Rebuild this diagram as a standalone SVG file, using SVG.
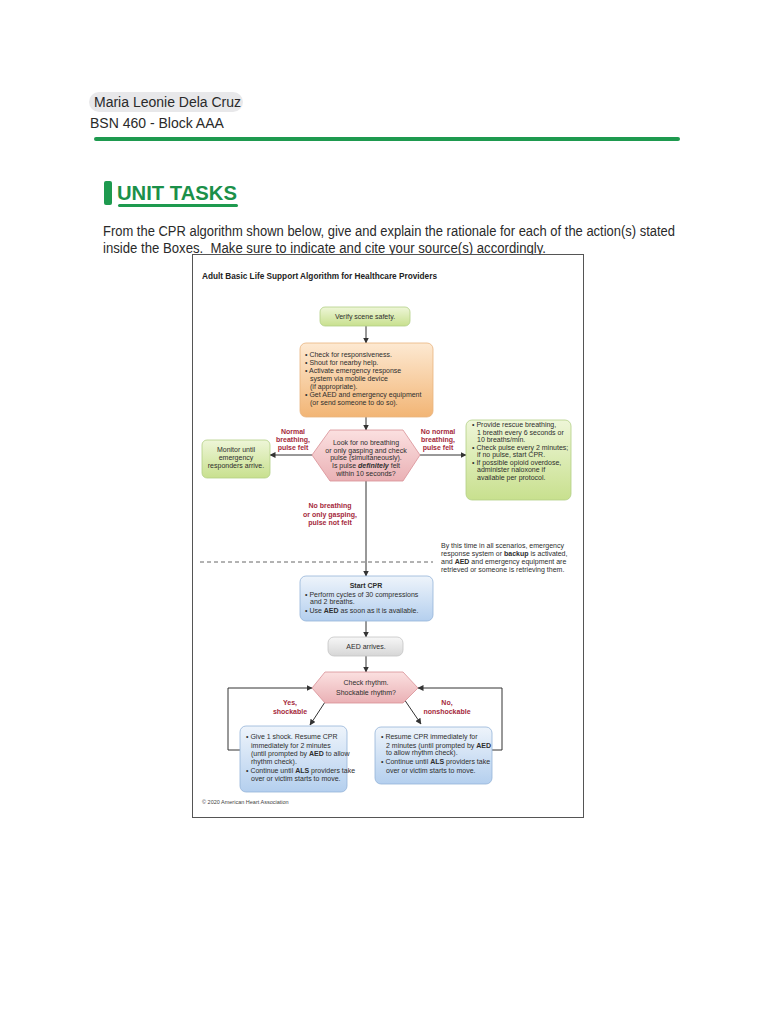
<svg xmlns="http://www.w3.org/2000/svg" width="768" height="1024" viewBox="0 0 768 1024">
<defs>
<linearGradient id="gGreen" x1="0" y1="0" x2="0" y2="1"><stop offset="0" stop-color="#eef6d8"/><stop offset="1" stop-color="#c8e08e"/></linearGradient>
<linearGradient id="gOrange" x1="0" y1="0" x2="0" y2="1"><stop offset="0" stop-color="#fde9d2"/><stop offset="1" stop-color="#f2b575"/></linearGradient>
<linearGradient id="gPink" x1="0" y1="0" x2="0" y2="1"><stop offset="0" stop-color="#fbe0e0"/><stop offset="1" stop-color="#eab1b5"/></linearGradient>
<linearGradient id="gBlue" x1="0" y1="0" x2="0" y2="1"><stop offset="0" stop-color="#eef4fb"/><stop offset="1" stop-color="#b4cfee"/></linearGradient>
<linearGradient id="gGray" x1="0" y1="0" x2="0" y2="1"><stop offset="0" stop-color="#f7f7f7"/><stop offset="1" stop-color="#d6d6d6"/></linearGradient>
<marker id="arr" markerWidth="6" markerHeight="6" refX="5.5" refY="3" orient="auto" markerUnits="userSpaceOnUse"><path d="M0,0 L6,3 L0,6 z" fill="#333"/></marker>
</defs>
<style>
.hdr{font-family:"Liberation Sans",Arial,sans-serif;font-size:14px;fill:#2a2a2a}
.bt{font-family:"Liberation Sans",Arial,sans-serif;font-size:7px;fill:#2e2e2e}
.btc{font-family:"Liberation Sans",Arial,sans-serif;font-size:7px;fill:#2e2e2e;text-anchor:middle}
.lbl{font-family:"Liberation Sans",Arial,sans-serif;font-size:7px;font-weight:bold;fill:#a52a3c;text-anchor:middle}
.conn{stroke:#333;stroke-width:1;fill:none}
.b{font-weight:bold}
</style>
<rect width="768" height="1024" fill="#ffffff"/>
<g id="header">
<rect x="89" y="92" width="154" height="20" rx="10" fill="#e8e8ea"/>
<text class="hdr" x="94" y="107">Maria Leonie Dela Cruz</text>
<text class="hdr" x="90" y="128">BSN 460 - Block AAA</text>
<rect x="94" y="137" width="586" height="4" rx="2" fill="#1e9a4f"/>
<rect x="104" y="181" width="8" height="24" rx="2" fill="#1e9a4f"/>
<text x="117" y="200" font-family="'Liberation Sans',Arial,sans-serif" font-size="21" font-weight="bold" fill="#1b9049" textLength="120" lengthAdjust="spacingAndGlyphs">UNIT TASKS</text>
<rect x="118" y="204" width="120" height="3" rx="1.5" fill="#1e9a4f"/>
<text class="hdr" x="103" y="236" textLength="572" lengthAdjust="spacingAndGlyphs">From the CPR algorithm shown below, give and explain the rationale for each of the action(s) stated</text>
<text class="hdr" x="103" y="253" textLength="443" lengthAdjust="spacingAndGlyphs">inside the Boxes.&#160; Make sure to indicate and cite your source(s) accordingly.</text>
</g>
<rect x="192.5" y="254.5" width="391" height="563" fill="#fff" stroke="#555" stroke-width="1"/>
<text x="202" y="279" font-family="'Liberation Sans',Arial,sans-serif" font-size="8.5" font-weight="bold" fill="#222" textLength="235" lengthAdjust="spacingAndGlyphs">Adult Basic Life Support Algorithm for Healthcare Providers</text>
<g id="connectors">
<line class="conn" x1="366" y1="326" x2="366" y2="343" marker-end="url(#arr)"/>
<line class="conn" x1="366" y1="417" x2="366" y2="430" marker-end="url(#arr)"/>
<line class="conn" x1="312" y1="455" x2="270" y2="455" marker-end="url(#arr)"/>
<line class="conn" x1="420" y1="455" x2="466" y2="455" marker-end="url(#arr)"/>
<line class="conn" x1="366" y1="481" x2="366" y2="576" marker-end="url(#arr)"/>
<line class="conn" x1="366" y1="621" x2="366" y2="637" marker-end="url(#arr)"/>
<line class="conn" x1="366" y1="656" x2="366" y2="672" marker-end="url(#arr)"/>
<line class="conn" x1="327" y1="699" x2="310" y2="725" marker-end="url(#arr)"/>
<line class="conn" x1="404" y1="699" x2="421" y2="724" marker-end="url(#arr)"/>
<polyline class="conn" points="240,750 228,750 228,688 312,688" marker-end="url(#arr)"/>
<polyline class="conn" points="492,750 502,750 502,688 418,688" marker-end="url(#arr)"/>
<line x1="200" y1="562" x2="433" y2="562" stroke="#666" stroke-width="1" stroke-dasharray="4,3"/>
</g>
<g id="verify">
<rect x="320" y="307" width="90" height="19" rx="5" fill="url(#gGreen)" stroke="#b3cf86" stroke-width="0.8"/>
<text class="btc" x="365" y="319">Verify scene safety.</text>
</g>
<g id="check">
<rect x="300" y="343" width="133" height="74" rx="6" fill="url(#gOrange)" stroke="#e9b47f" stroke-width="0.8"/>
<text class="bt" x="305" y="357">• Check for responsiveness.</text>
<text class="bt" x="305" y="365">• Shout for nearby help.</text>
<text class="bt" x="305" y="373">• Activate emergency response</text>
<text class="bt" x="310" y="381">system via mobile device</text>
<text class="bt" x="310" y="389">(if appropriate).</text>
<text class="bt" x="305" y="397">• Get AED and emergency equipment</text>
<text class="bt" x="310" y="405">(or send someone to do so).</text>
</g>
<g id="look">
<polygon points="312,455 330,430 403,430 420,455 403,481 330,481" fill="url(#gPink)" stroke="#d88f96" stroke-width="0.8"/>
<text class="btc" x="366" y="445">Look for no breathing</text>
<text class="btc" x="366" y="453">or only gasping and check</text>
<text class="btc" x="366" y="460">pulse (simultaneously).</text>
<text class="btc" x="366" y="468">Is pulse <tspan class="b" font-style="italic">definitely</tspan> felt</text>
<text class="btc" x="366" y="476">within 10 seconds?</text>
</g>
<g id="monitor">
<rect x="202" y="440" width="68" height="38" rx="5" fill="url(#gGreen)" stroke="#b3cf86" stroke-width="0.8"/>
<text class="btc" x="236" y="452">Monitor until</text>
<text class="btc" x="236" y="460">emergency</text>
<text class="btc" x="236" y="468">responders arrive.</text>
</g>
<g id="rescue">
<rect x="466" y="420" width="105" height="80" rx="6" fill="url(#gGreen)" stroke="#b3cf86" stroke-width="0.8"/>
<text class="bt" x="472" y="427">• Provide rescue breathing,</text>
<text class="bt" x="477" y="435">1 breath every 6 seconds or</text>
<text class="bt" x="477" y="442">10 breaths/min.</text>
<text class="bt" x="472" y="450">• Check pulse every 2 minutes;</text>
<text class="bt" x="477" y="457">if no pulse, start CPR.</text>
<text class="bt" x="472" y="465">• If possible opioid overdose,</text>
<text class="bt" x="477" y="472">administer naloxone if</text>
<text class="bt" x="477" y="480">available per protocol.</text>
</g>
<g id="labels">
<text class="lbl" x="293" y="434">Normal</text>
<text class="lbl" x="293" y="442">breathing,</text>
<text class="lbl" x="293" y="450">pulse felt</text>
<text class="lbl" x="438" y="434">No normal</text>
<text class="lbl" x="438" y="442">breathing,</text>
<text class="lbl" x="438" y="450">pulse felt</text>
<text class="lbl" x="330" y="508">No breathing</text>
<text class="lbl" x="330" y="517">or only gasping,</text>
<text class="lbl" x="330" y="525">pulse not felt</text>
<text class="lbl" x="290" y="705">Yes,</text>
<text class="lbl" x="290" y="714">shockable</text>
<text class="lbl" x="447" y="705">No,</text>
<text class="lbl" x="447" y="714">nonshockable</text>
</g>
<g id="note">
<text class="bt" x="441" y="548">By this time in all scenarios, emergency</text>
<text class="bt" x="441" y="556">response system or <tspan class="b">backup</tspan> is activated,</text>
<text class="bt" x="441" y="564">and <tspan class="b">AED</tspan> and emergency equipment are</text>
<text class="bt" x="441" y="572">retrieved or someone is retrieving them.</text>
</g>
<g id="startcpr">
<rect x="300" y="576" width="133" height="45" rx="6" fill="url(#gBlue)" stroke="#94b4d8" stroke-width="0.8"/>
<text class="btc b" x="366" y="588">Start CPR</text>
<text class="bt" x="305" y="597">• Perform cycles of 30 compressions</text>
<text class="bt" x="310" y="604">and 2 breaths.</text>
<text class="bt" x="305" y="613">• Use <tspan class="b">AED</tspan> as soon as it is available.</text>
</g>
<g id="aed">
<rect x="328" y="637" width="75" height="19" rx="6" fill="url(#gGray)" stroke="#c4c4c4" stroke-width="0.8"/>
<text class="btc" x="366" y="649">AED arrives.</text>
</g>
<g id="rhythm">
<polygon points="312,688 325,672 403,672 418,688 403,703 325,703" fill="url(#gPink)" stroke="#d88f96" stroke-width="0.8"/>
<text class="btc" x="366" y="685">Check rhythm.</text>
<text class="btc" x="366" y="695">Shockable rhythm?</text>
</g>
<g id="shock">
<rect x="240" y="726" width="107" height="66" rx="6" fill="url(#gBlue)" stroke="#94b4d8" stroke-width="0.8"/>
<text class="bt" x="246" y="739">• Give 1 shock. Resume CPR</text>
<text class="bt" x="251" y="748">immediately for 2 minutes</text>
<text class="bt" x="251" y="756">(until prompted by <tspan class="b">AED</tspan> to allow</text>
<text class="bt" x="251" y="764">rhythm check).</text>
<text class="bt" x="246" y="773">• Continue until <tspan class="b">ALS</tspan> providers take</text>
<text class="bt" x="251" y="781">over or victim starts to move.</text>
</g>
<g id="noshock">
<rect x="375" y="727" width="117" height="57" rx="6" fill="url(#gBlue)" stroke="#94b4d8" stroke-width="0.8"/>
<text class="bt" x="381" y="739">• Resume CPR immediately for</text>
<text class="bt" x="386" y="748">2 minutes (until prompted by <tspan class="b">AED</tspan></text>
<text class="bt" x="386" y="755">to allow rhythm check).</text>
<text class="bt" x="381" y="764">• Continue until <tspan class="b">ALS</tspan> providers take</text>
<text class="bt" x="386" y="773">over or victim starts to move.</text>
</g>
<text x="202" y="804" font-family="'Liberation Sans',Arial,sans-serif" font-size="5.5" fill="#444">© 2020 American Heart Association</text>
</svg>
